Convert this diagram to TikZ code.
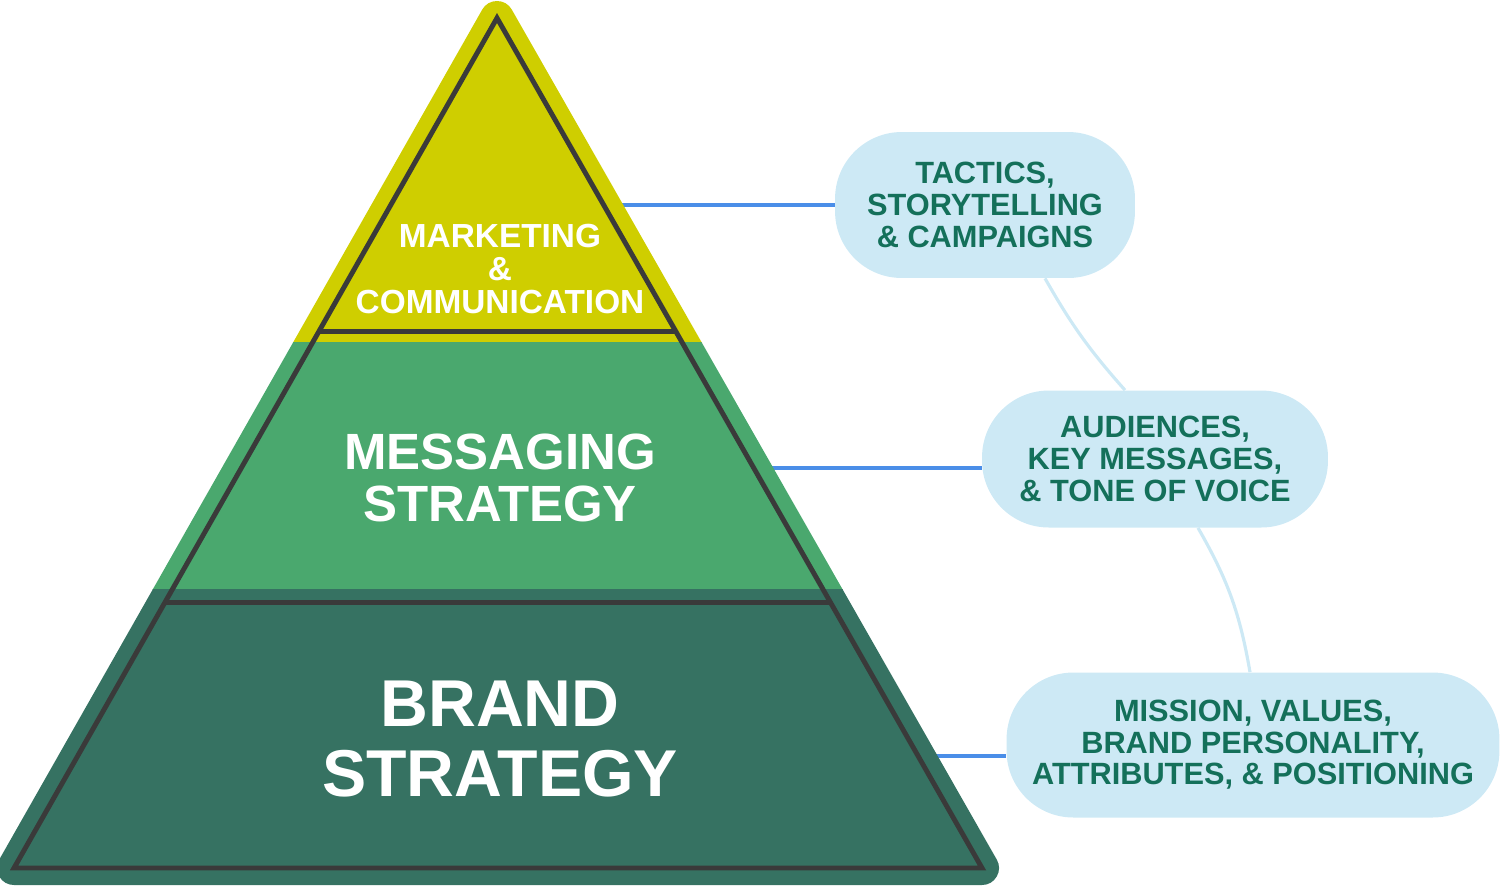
\documentclass[tikz,border=0pt]{standalone}
\usepackage{fontspec}
\setmainfont{Liberation Sans}
\usetikzlibrary{calc,positioning}
\definecolor{pmyellow}{HTML}{CFCE00}
\definecolor{pmlight}{HTML}{4AA86E}
\definecolor{pmdark}{HTML}{367262}
\definecolor{pmink}{HTML}{3A3A3A}
\definecolor{pmblue}{HTML}{4A8EE8}
\definecolor{pmsky}{HTML}{CDE9F5}
\definecolor{pmteal}{HTML}{14705A}
\tikzset{
  pm band/.style={line width=0.68cm, line join=round},
  pm outline/.style={draw=pmink, line width=2.8pt, line join=miter},
  pm tier/.style={text=white, align=center},
  pm bubble/.style={fill=pmsky, rounded corners=38pt, align=center, inner sep=0pt,
    font=\bfseries\fontsize{17.5}{18}\selectfont, text=pmteal},
  pm link/.style={draw=pmblue, line width=2.3pt},
  pm chain/.style={draw=pmsky, line width=1.8pt}
}

\begin{document}
\begin{tikzpicture}[x=0.02cm, y=-0.02cm]
  \useasboundingbox (0,0) rectangle (1500,887);
  \coordinate (apex) at (497,18);
  \coordinate (bl) at (14,868);
  \coordinate (br) at (982,868);
  \node[pm bubble, minimum width=6cm, minimum height=2.92cm] (tac) at (985,205)
    {TACTICS,\\STORYTELLING\\\& CAMPAIGNS};
  \node[pm bubble, minimum width=6.92cm, minimum height=2.74cm] (aud) at (1155,459)
    {AUDIENCES,\\KEY MESSAGES,\\\& TONE OF VOICE};
  \node[pm bubble, minimum width=9.86cm, minimum height=2.9cm] (mis) at (1253,745)
    {MISSION, VALUES,\\BRAND PERSONALITY,\\ATTRIBUTES, \& POSITIONING};
  \draw[pm chain] ($(tac.south)+(60,0)$) to[bend right=6] ($(aud.north)+(-30,0)$);
  \draw[pm chain] ($(aud.south)+(43,0)$) to[bend left=10] ($(mis.north)+(-3,0)$);
  \coordinate (t1) at ($(apex)!0.22!(br)$);
  \coordinate (t2) at ($(apex)!0.5294!(br)$);
  \coordinate (t3) at ($(apex)!0.8682!(br)$);
  \draw[pm link] (t1) -- (t1 -| tac.west);
  \draw[pm link] (t2) -- (t2 -| aud.west);
  \draw[pm link] (t3) -- (t3 -| mis.west);
  \foreach \bandcol/\ya/\yb in {pmyellow/-20/342, pmlight/342/589, pmdark/589/900} {
    \begin{scope}
      \clip (-20,\ya) rectangle (1020,\yb);
      \filldraw[pm band, draw=\bandcol, fill=\bandcol] (apex) -- (br) -- (bl) -- cycle;
    \end{scope}
  }
  \draw[pm outline] (apex) -- (br) -- (bl) -- cycle;
  \draw[pm outline] ($(apex)!0.369!(bl)$) -- ($(apex)!0.369!(br)$);
  \draw[pm outline] ($(apex)!0.688!(bl)$) -- ($(apex)!0.688!(br)$);
  \node[pm tier, font=\bfseries\fontsize{19}{18.7}\selectfont] (mkt) at (500,269)
    {MARKETING\\\&\\COMMUNICATION};
  \node[pm tier, font=\bfseries\fontsize{29}{29.5}\selectfont] (msg) at (500,478)
    {MESSAGING\\STRATEGY};
  \node[pm tier, font=\bfseries\fontsize{37.7}{39.7}\selectfont] (brd) at (500,739)
    {BRAND\\STRATEGY};
\end{tikzpicture}
\end{document}
